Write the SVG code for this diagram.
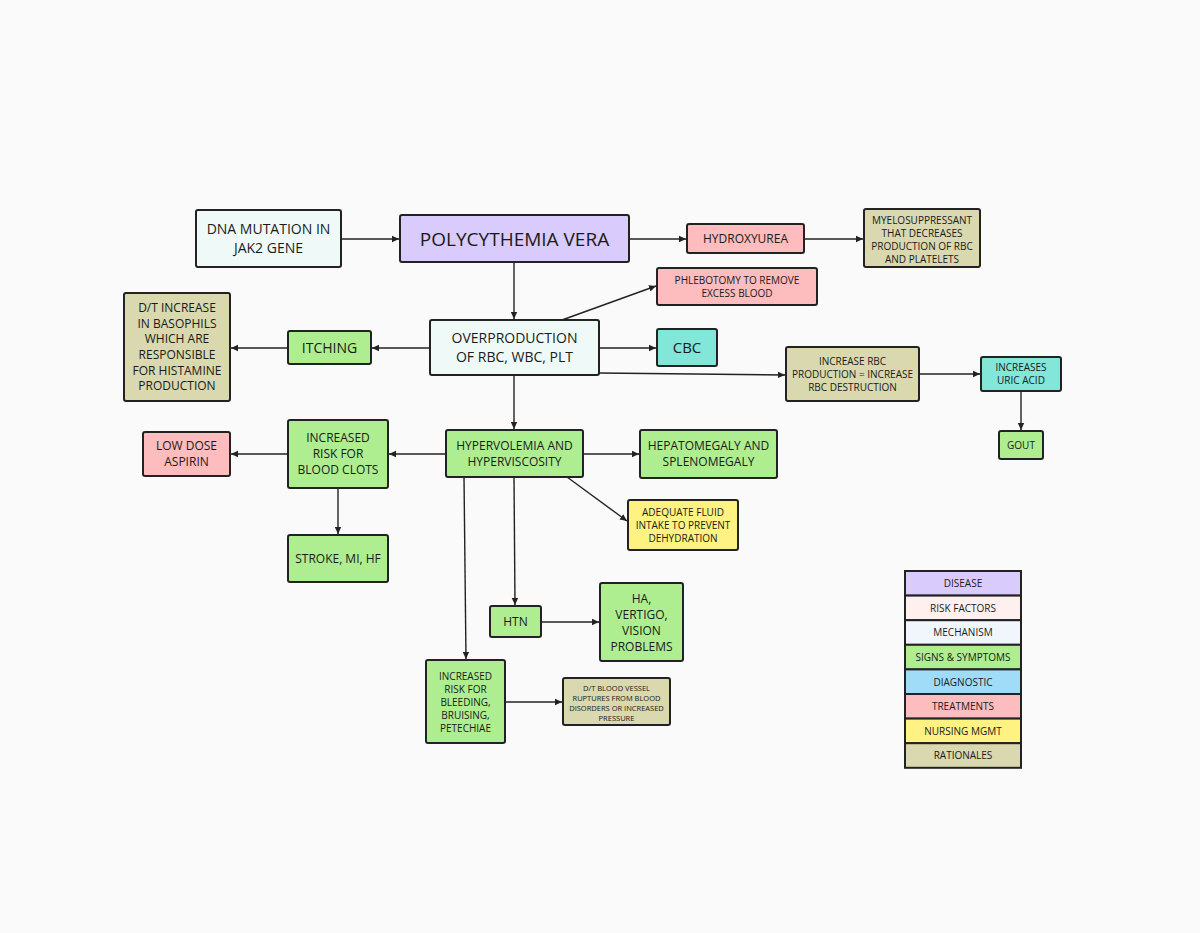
<svg xmlns="http://www.w3.org/2000/svg" width="1200" height="933" viewBox="0 0 1200 933">
<style>
rect{stroke:#222;stroke-width:2}
text{font-family:"Open Sans","Liberation Sans",sans-serif;fill:#1a1a1a;text-anchor:middle}
.c line{stroke:#222;stroke-width:1.4;marker-end:url(#a)}
.m{fill:#effaf8}.d{fill:#d9cbfb}.g{fill:#aeee90}.cy{fill:#82e6d8}.p{fill:#fdbcbd}.y{fill:#fdf282}.r{fill:#d9d8ae}
.f14{font-size:14px}.f10{font-size:10px}.f12{font-size:12px}.f8{font-size:7.5px}
</style>
<defs><marker id="a" markerWidth="8" markerHeight="8" refX="7" refY="4" orient="auto" markerUnits="userSpaceOnUse"><path d="M0,0.8 L7,4 L0,7.2z" fill="#222"/></marker></defs>
<rect x="0" y="0" width="1200" height="933" fill="#fafafa" style="stroke:none"/>
<g class="c">
<line x1="341" y1="239" x2="399" y2="239"/>
<line x1="629" y1="239" x2="686" y2="239"/>
<line x1="804" y1="239" x2="863" y2="239"/>
<line x1="514" y1="262" x2="514" y2="319"/>
<line x1="562" y1="320" x2="656" y2="286"/>
<line x1="430" y1="348" x2="372" y2="348"/>
<line x1="288" y1="348" x2="231" y2="348"/>
<line x1="599" y1="348" x2="656" y2="348"/>
<line x1="599" y1="373" x2="785" y2="375"/>
<line x1="919" y1="374" x2="980" y2="374"/>
<line x1="1021" y1="391" x2="1021" y2="430"/>
<line x1="514" y1="375" x2="514" y2="429"/>
<line x1="446" y1="454" x2="389" y2="454"/>
<line x1="288" y1="454" x2="231" y2="454"/>
<line x1="338" y1="488" x2="338" y2="534"/>
<line x1="583" y1="454" x2="639" y2="454"/>
<line x1="567" y1="477" x2="627" y2="521"/>
<line x1="514" y1="477" x2="515" y2="605"/>
<line x1="464" y1="477" x2="466" y2="659"/>
<line x1="541" y1="622" x2="599" y2="622"/>
<line x1="505" y1="702" x2="562" y2="702"/>
</g>
<g id="dna"><rect class="m" x="196" y="210" width="145" height="57" rx="2"/><text class="f14" x="268.5" y="234">DNA MUTATION IN</text><text class="f14" x="268.5" y="253">JAK2 GENE</text></g>
<g id="pv"><rect class="d" x="400" y="215" width="229" height="47" rx="2"/><text x="514.5" y="246" font-size="19">POLYCYTHEMIA VERA</text></g>
<g id="hydro"><rect class="p" x="687" y="224" width="117" height="29" rx="2"/><text class="f12" x="745.5" y="243">HYDROXYUREA</text></g>
<g id="myelo"><rect class="r" x="864" y="209" width="116" height="58" rx="2"/><text class="f10" x="922" y="224">MYELOSUPPRESSANT</text><text class="f10" x="922" y="237">THAT DECREASES</text><text class="f10" x="922" y="250">PRODUCTION OF RBC</text><text class="f10" x="922" y="263">AND PLATELETS</text></g>
<g id="phleb"><rect class="p" x="657" y="268" width="160" height="37" rx="2"/><text class="f10" x="737" y="284">PHLEBOTOMY TO REMOVE</text><text class="f10" x="737" y="297">EXCESS BLOOD</text></g>
<g id="baso"><rect class="r" x="124" y="293" width="106" height="108" rx="2"/><text class="f12" x="177" y="312">D/T INCREASE</text><text class="f12" x="177" y="328">IN BASOPHILS</text><text class="f12" x="177" y="343">WHICH ARE</text><text class="f12" x="177" y="359">RESPONSIBLE</text><text class="f12" x="177" y="375">FOR HISTAMINE</text><text class="f12" x="177" y="390">PRODUCTION</text></g>
<g id="itch"><rect class="g" x="288" y="331" width="83" height="33" rx="2"/><text class="f14" x="329.5" y="353">ITCHING</text></g>
<g id="over"><rect class="m" x="430" y="320" width="169" height="55" rx="2"/><text class="f14" x="514.5" y="343">OVERPRODUCTION</text><text class="f14" x="514.5" y="362">OF RBC, WBC, PLT</text></g>
<g id="cbc"><rect class="cy" x="657" y="329" width="60" height="37" rx="2"/><text x="687" y="353" font-size="15">CBC</text></g>
<g id="incrbc"><rect class="r" x="786" y="347" width="133" height="54" rx="2"/><text class="f10" x="852.5" y="365">INCREASE RBC</text><text class="f10" x="852.5" y="378">PRODUCTION = INCREASE</text><text class="f10" x="852.5" y="391">RBC DESTRUCTION</text></g>
<g id="uric"><rect class="cy" x="981" y="357" width="80" height="34" rx="2"/><text class="f10" x="1021" y="371">INCREASES</text><text class="f10" x="1021" y="384">URIC ACID</text></g>
<g id="gout"><rect class="g" x="999" y="431" width="44" height="28" rx="2"/><text class="f10" x="1021" y="449">GOUT</text></g>
<g id="aspirin"><rect class="p" x="143" y="432" width="87" height="44" rx="2"/><text class="f12" x="186.5" y="450">LOW DOSE</text><text class="f12" x="186.5" y="466">ASPIRIN</text></g>
<g id="clots"><rect class="g" x="288" y="420" width="100" height="68" rx="2"/><text class="f12" x="338" y="442">INCREASED</text><text class="f12" x="338" y="458">RISK FOR</text><text class="f12" x="338" y="474">BLOOD CLOTS</text></g>
<g id="hyper"><rect class="g" x="446" y="430" width="137" height="47" rx="2"/><text class="f12" x="514.5" y="450">HYPERVOLEMIA AND</text><text class="f12" x="514.5" y="466">HYPERVISCOSITY</text></g>
<g id="hepato"><rect class="g" x="640" y="430" width="137" height="48" rx="2"/><text class="f12" x="708.5" y="450">HEPATOMEGALY AND</text><text class="f12" x="708.5" y="466">SPLENOMEGALY</text></g>
<g id="fluid"><rect class="y" x="628" y="500" width="110" height="50" rx="2"/><text class="f10" x="683" y="516">ADEQUATE FLUID</text><text class="f10" x="683" y="529">INTAKE TO PREVENT</text><text class="f10" x="683" y="542">DEHYDRATION</text></g>
<g id="stroke"><rect class="g" x="288" y="535" width="100" height="47" rx="2"/><text class="f12" x="338" y="563">STROKE, MI, HF</text></g>
<g id="htn"><rect class="g" x="490" y="606" width="51" height="31" rx="2"/><text class="f12" x="515.5" y="626">HTN</text></g>
<g id="ha"><rect class="g" x="600" y="583" width="83" height="78" rx="2"/><text class="f12" x="641.5" y="603">HA,</text><text class="f12" x="641.5" y="619">VERTIGO,</text><text class="f12" x="641.5" y="635">VISION</text><text class="f12" x="641.5" y="651">PROBLEMS</text></g>
<g id="bleed"><rect class="g" x="426" y="660" width="79" height="83" rx="2"/><text class="f10" x="465.5" y="680">INCREASED</text><text class="f10" x="465.5" y="693">RISK FOR</text><text class="f10" x="465.5" y="706">BLEEDING,</text><text class="f10" x="465.5" y="719">BRUISING,</text><text class="f10" x="465.5" y="732">PETECHIAE</text></g>
<g id="vessel"><rect class="r" x="563" y="678" width="107" height="47" rx="2"/><text class="f8" x="616.5" y="691">D/T BLOOD VESSEL</text><text class="f8" x="616.5" y="701">RUPTURES FROM BLOOD</text><text class="f8" x="616.5" y="711">DISORDERS OR INCREASED</text><text class="f8" x="616.5" y="721">PRESSURE</text></g>
<g id="legend">
<rect x="905" y="571" width="116" height="24.6" fill="#d9cbfb"/><text class="f10" x="963" y="587">DISEASE</text>
<rect x="905" y="595.6" width="116" height="24.6" fill="#fdf0ef"/><text class="f10" x="963" y="611.5">RISK FACTORS</text>
<rect x="905" y="620.2" width="116" height="24.6" fill="#f1f6fd"/><text class="f10" x="963" y="636">MECHANISM</text>
<rect x="905" y="644.8" width="116" height="24.6" fill="#aeee90"/><text class="f10" x="963" y="661">SIGNS &amp; SYMPTOMS</text>
<rect x="905" y="669.4" width="116" height="24.6" fill="#a0dcf8"/><text class="f10" x="963" y="685.5">DIAGNOSTIC</text>
<rect x="905" y="694" width="116" height="24.6" fill="#fdbcbd"/><text class="f10" x="963" y="710">TREATMENTS</text>
<rect x="905" y="718.6" width="116" height="24.6" fill="#fdf282"/><text class="f10" x="963" y="734.5">NURSING MGMT</text>
<rect x="905" y="743.2" width="116" height="24.6" fill="#d9d8ae"/><text class="f10" x="963" y="759">RATIONALES</text>
</g>
</svg>
